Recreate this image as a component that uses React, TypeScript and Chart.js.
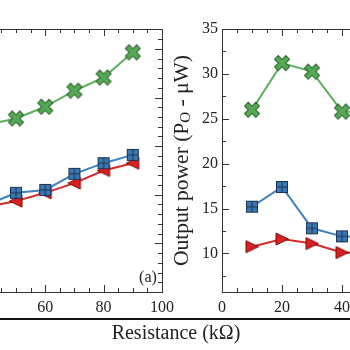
import React, { useEffect, useRef } from "react";
import { Chart, registerables } from "chart.js";

Chart.register(...registerables);

// ---- Data (left panel, partially visible) ----
const leftResistance = [40, 50, 60, 70, 80, 90];
const leftGreen = [3.44, 3.57, 3.81, 4.14, 4.41, 4.93];
const leftBlue = [1.79, 2.04, 2.1, 2.43, 2.65, 2.82];
const leftRed = [1.75, 1.87, 2.04, 2.24, 2.5, 2.65];

// ---- Data (right panel, output power in µW) ----
const rightResistance = [10, 20, 30, 40, 50];
const rightGreen = [26.0, 31.2, 30.25, 25.8, 25.7];
const rightBlue = [15.2, 17.4, 12.8, 11.9, 11.8];
const rightRed = [10.75, 11.6, 11.1, 10.1, 10.0];

const xTickValues = [0, 20, 40, 60, 80, 100];
const rightYTickValues = [10, 15, 20, 25, 30, 35];

const xTitle = "Resistance (kΩ)";
const yTitleParts = ["Output power (P", "O", " - μW)"];
const panelLabel = "(a)";

const FONT = '"Liberation Serif", "Times New Roman", serif';
const TEXT = "#222";

Chart.defaults.font.family = FONT;

const GREEN_LINE = "#5cae5c";
const GREEN_FILL = "#55a955";
const GREEN_EDGE = "#2b5e2b";
const BLUE_LINE = "#3f80bd";
const BLUE_FILL = "#3b77b2";
const BLUE_EDGE = "#1c3553";
const RED_LINE = "#d42a2a";
const RED_FILL = "#d91f1f";
const RED_EDGE = "#7a0d0d";

function makeCanvas(size: number) {
  const c = document.createElement("canvas");
  c.width = size;
  c.height = size;
  return c;
}

function xMarker() {
  const c = makeCanvas(18);
  const g = c.getContext("2d")!;
  g.translate(9, 9);
  g.rotate(Math.PI / 4);
  const t = 2.6, L = 8;
  const pts = [
    [t, L], [t, t], [L, t], [L, -t], [t, -t], [t, -L],
    [-t, -L], [-t, -t], [-L, -t], [-L, t], [-t, t], [-t, L],
  ];
  g.beginPath();
  pts.forEach(([a, b], i) => (i ? g.lineTo(a, b) : g.moveTo(a, b)));
  g.closePath();
  g.fillStyle = GREEN_FILL;
  g.fill();
  g.strokeStyle = GREEN_EDGE;
  g.lineWidth = 1;
  g.stroke();
  return c;
}

function squareMarker() {
  const c = makeCanvas(14);
  const g = c.getContext("2d")!;
  g.fillStyle = BLUE_FILL;
  g.fillRect(1.5, 1.5, 11, 11);
  g.strokeStyle = BLUE_EDGE;
  g.lineWidth = 1;
  g.strokeRect(1.5, 1.5, 11, 11);
  g.beginPath();
  g.moveTo(7, 1.5);
  g.lineTo(7, 12.5);
  g.moveTo(1.5, 7);
  g.lineTo(12.5, 7);
  g.stroke();
  return c;
}

function triMarker(dir: number) {
  const c = makeCanvas(16);
  const g = c.getContext("2d")!;
  g.translate(8, 8);
  g.scale(dir, 1);
  g.beginPath();
  g.moveTo(-6.5, 0);
  g.lineTo(6, -6);
  g.lineTo(6, 6);
  g.closePath();
  g.fillStyle = RED_FILL;
  g.fill();
  g.strokeStyle = RED_EDGE;
  g.lineWidth = 1;
  g.stroke();
  return c;
}

function frameTicks(xMinor: number, xMajor: number, yMinor: number, yMajor: number) {
  return {
    id: "frameTicks",
    afterDraw(chart: any) {
      const { ctx, chartArea: a, scales } = chart;
      const xs = scales.x, ys = scales.y;
      ctx.save();
      ctx.strokeStyle = "#333";
      ctx.lineWidth = 1;
      ctx.strokeRect(Math.round(a.left) + 0.5, Math.round(a.top) + 0.5, Math.round(a.right - a.left), Math.round(a.bottom - a.top));
      ctx.beginPath();
      const nx = Math.round((xs.max - xs.min) / xMinor);
      for (let i = 0; i <= nx; i++) {
        const v = xs.min + i * xMinor;
        const major = Math.abs(v / xMajor - Math.round(v / xMajor)) < 1e-6;
        const len = major ? 7 : 4;
        const px = Math.round(xs.getPixelForValue(v)) + 0.5;
        ctx.moveTo(px, a.bottom);
        ctx.lineTo(px, a.bottom - len);
        ctx.moveTo(px, a.top);
        ctx.lineTo(px, a.top + len);
      }
      const start = Math.ceil(ys.min / yMinor - 1e-6);
      const end = Math.floor(ys.max / yMinor + 1e-6);
      for (let k = start; k <= end; k++) {
        const v = k * yMinor;
        const major = Math.abs(v / yMajor - Math.round(v / yMajor)) < 1e-6;
        const len = major ? 7 : 4;
        const py = Math.round(ys.getPixelForValue(v)) + 0.5;
        ctx.moveTo(a.left, py);
        ctx.lineTo(a.left + len, py);
        ctx.moveTo(a.right, py);
        ctx.lineTo(a.right - len, py);
      }
      ctx.stroke();
      ctx.restore();
    },
  };
}

function ds(xs: number[], ys: number[], color: string, style: any) {
  return {
    data: xs.map((x, i) => ({ x, y: ys[i] })),
    borderColor: color,
    backgroundColor: color,
    borderWidth: 2,
    pointStyle: style,
    pointRadius: 7,
    tension: 0,
  };
}

function xScale(afterFitH: number) {
  return {
    type: "linear" as const,
    min: 0,
    max: 100,
    grid: { display: false, drawTicks: false },
    border: { display: false },
    afterBuildTicks: (s: any) => {
      s.ticks = xTickValues.map((v) => ({ value: v }));
    },
    afterFit: (s: any) => {
      s.height = afterFitH;
    },
    ticks: { color: TEXT, font: { family: FONT, size: 16 }, padding: 6, maxRotation: 0, autoSkip: false },
  };
}

export default function App() {
  const leftRef = useRef<HTMLCanvasElement>(null);
  const rightRef = useRef<HTMLCanvasElement>(null);

  useEffect(() => {
    const green = xMarker();
    const blue = squareMarker();
    const redL = triMarker(1);
    const redR = triMarker(-1);

    const labelPlugin = {
      id: "panelLabel",
      afterDraw(chart: any) {
        const { ctx } = chart;
        ctx.save();
        ctx.fillStyle = TEXT;
        ctx.font = `16px ${FONT}`;
        ctx.textAlign = "center";
        ctx.textBaseline = "middle";
        ctx.fillText(panelLabel, 288, 278);
        ctx.restore();
      },
    };

    const left = new Chart(leftRef.current!, {
      type: "line",
      data: {
        datasets: [
          ds(leftResistance, leftGreen, GREEN_LINE, green),
          ds(leftResistance, leftBlue, BLUE_LINE, blue),
          ds(leftResistance, leftRed, RED_LINE, redL),
        ],
      },
      options: {
        animation: false,
        responsive: false,
        devicePixelRatio: 1,
        layout: { padding: { left: 8, right: 16, top: 29, bottom: 0 } },
        plugins: { legend: { display: false }, tooltip: { enabled: false } },
        scales: {
          x: xScale(58),
          y: { type: "linear", min: 0, max: 5.41, display: false },
        },
      } as any,
      plugins: [frameTicks(5, 20, 0.2, 1), labelPlugin],
    });

    const titlePlugin = {
      id: "yTitle",
      afterDraw(chart: any) {
        const { ctx, chartArea: a } = chart;
        ctx.save();
        ctx.translate(12, (a.top + a.bottom) / 2);
        ctx.rotate(-Math.PI / 2);
        ctx.fillStyle = TEXT;
        ctx.textBaseline = "middle";
        ctx.textAlign = "left";
        const big = `21.5px ${FONT}`;
        const small = `15px ${FONT}`;
        ctx.font = big;
        const w0 = ctx.measureText(yTitleParts[0]).width;
        const w2 = ctx.measureText(yTitleParts[2]).width;
        ctx.font = small;
        const w1 = ctx.measureText(yTitleParts[1]).width;
        let x = -(w0 + w1 + w2) / 2;
        ctx.font = big;
        ctx.fillText(yTitleParts[0], x, 0);
        x += w0;
        ctx.font = small;
        ctx.fillText(yTitleParts[1], x, 4);
        x += w1;
        ctx.font = big;
        ctx.fillText(yTitleParts[2], x, 0);
        ctx.restore();
      },
    };

    const right = new Chart(rightRef.current!, {
      type: "line",
      data: {
        datasets: [
          ds(rightResistance, rightGreen, GREEN_LINE, green),
          ds(rightResistance, rightBlue, BLUE_LINE, blue),
          ds(rightResistance, rightRed, RED_LINE, redR),
        ],
      },
      options: {
        animation: false,
        responsive: false,
        devicePixelRatio: 1,
        layout: { padding: { left: 0, right: 18, top: 29, bottom: 0 } },
        plugins: { legend: { display: false }, tooltip: { enabled: false } },
        scales: {
          x: xScale(58),
          y: {
            type: "linear",
            min: 5.7,
            max: 35,
            grid: { display: false, drawTicks: false },
            border: { display: false },
            afterBuildTicks: (s: any) => {
              s.ticks = rightYTickValues.map((v) => ({ value: v }));
            },
            afterFit: (s: any) => {
              s.width = 52;
            },
            ticks: { color: TEXT, font: { family: FONT, size: 16 }, padding: 4 },
          },
        },
      } as any,
      plugins: [frameTicks(5, 20, 2.5, 5), titlePlugin],
    });

    return () => {
      left.destroy();
      right.destroy();
    };
  }, []);

  return (
    <div
      style={{
        position: "fixed",
        left: 0,
        top: 0,
        width: 350,
        height: 350,
        overflow: "hidden",
        background: "#fff",
      }}
    >
      <canvas
        ref={leftRef}
        width={320}
        height={350}
        style={{ position: "absolute", left: -140, top: 0, width: 320, height: 350 }}
      />
      <canvas
        ref={rightRef}
        width={370}
        height={350}
        style={{ position: "absolute", left: 170, top: 0, width: 370, height: 350 }}
      />
      <div
        style={{
          position: "absolute",
          left: 0,
          top: 318,
          width: 350,
          height: 2,
          background: "#111",
        }}
      />
      <div
        style={{
          position: "absolute",
          left: 0,
          top: 322,
          width: 352,
          textAlign: "center",
          fontFamily: FONT,
          fontSize: 20,
          lineHeight: "20px",
          color: TEXT,
        }}
      >
        {xTitle}
      </div>
    </div>
  );
}
